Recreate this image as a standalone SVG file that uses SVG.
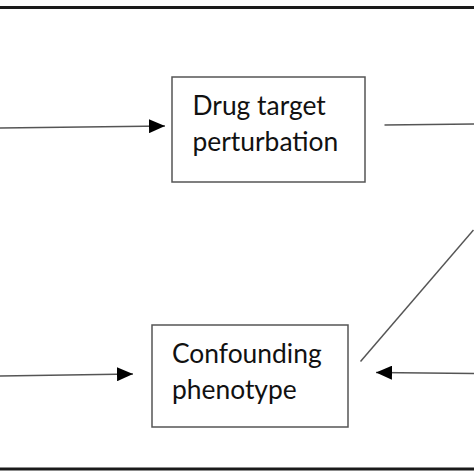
<svg xmlns="http://www.w3.org/2000/svg" width="474" height="474" viewBox="0 0 474 474">
  <style>
    .box { fill: #ffffff; stroke: #555555; stroke-width: 1.5; }
    .lbl { font-family: Lato, "Open Sans", sans-serif; font-size: 26.4px; fill: #111111; }
    .edge { stroke: #555555; stroke-width: 1.5; fill: none; }
    .rule { stroke: #1a1a1a; stroke-width: 3; }
  </style>
  <defs>
    <marker id="arrow" viewBox="0 0 16 14" refX="16" refY="7" markerWidth="16" markerHeight="14" markerUnits="userSpaceOnUse" orient="auto">
      <path d="M0,0 L16,7 L0,14 Z" fill="#000000"/>
    </marker>
  </defs>
  <rect width="474" height="474" fill="#ffffff"/>
  <!-- frame rules -->
  <line class="rule" x1="0" y1="7.5" x2="474" y2="7.5"/>
  <line class="rule" x1="0" y1="469" x2="474" y2="469"/>

  <g id="connectors">
    <line class="edge" x1="0" y1="128" x2="165" y2="126" marker-end="url(#arrow)"/>
    <line class="edge" x1="384.5" y1="125" x2="474" y2="124"/>
    <line class="edge" x1="473.5" y1="230" x2="360.5" y2="361.5" stroke="#333333" stroke-width="1"/>
    <line class="edge" x1="474" y1="373.5" x2="376" y2="372.5" marker-end="url(#arrow)"/>
    <line class="edge" x1="0" y1="376" x2="133" y2="374" marker-end="url(#arrow)"/>
  </g>

  <g id="drug-target-perturbation">
    <rect class="box" x="172" y="77" width="193" height="105"/>
    <text class="lbl" x="192.5" y="115">Drug target</text>
    <text class="lbl" x="192.5" y="151">perturbation</text>
  </g>

  <g id="confounding-phenotype">
    <rect class="box" x="152" y="325" width="196" height="102"/>
    <text class="lbl" x="172" y="363">Confounding</text>
    <text class="lbl" x="172" y="399">phenotype</text>
  </g>
</svg>
